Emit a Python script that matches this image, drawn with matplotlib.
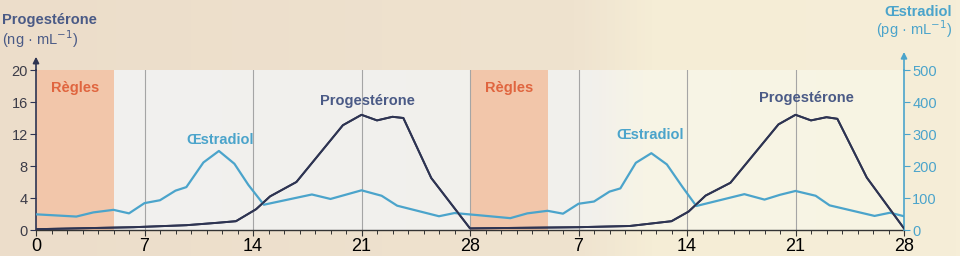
import matplotlib
matplotlib.use('Agg')
import matplotlib.pyplot as plt
import numpy as np
from matplotlib.colors import LinearSegmentedColormap

plt.rcParams['font.family'] = ['Liberation Sans', 'DejaVu Sans']

# Progestérone (ng/mL), deux cycles de 28 jours
jours_pro = [0, 6.3, 9.7, 11.7, 12.9, 14.2, 15.1, 16.8, 19.8, 21, 22, 23, 23.7, 25.5, 28,
             35, 38.3, 41, 42.1, 43.2, 44.8, 47.9, 49, 50, 51, 51.7, 53.6, 56]
progesterone = [0.1, 0.35, 0.6, 0.9, 1.1, 2.6, 4.2, 6.0, 13.1, 14.4, 13.7, 14.15, 14.0, 6.5, 0.2,
                0.35, 0.5, 1.1, 2.3, 4.3, 5.9, 13.2, 14.4, 13.7, 14.1, 13.9, 6.55, 0.2]

# Œstradiol (pg/mL)
jours_oes = [0, 1.5, 2.6, 3.7, 5, 6, 7, 8, 9, 9.7, 10.8, 11.8, 12.8, 13.7, 14.7, 17.8, 19, 21,
             22.3, 23.3, 26, 27, 28.6, 30.6, 31.7, 33, 34, 35, 36, 37, 37.7, 38.7, 39.7, 40.7,
             41.7, 42.6, 45.7, 47, 48, 49, 50.3, 51.2, 54.1, 55.1, 56]
oestradiol = [49, 45, 42, 55, 63, 52, 84, 93, 123, 134, 211, 247, 207, 141, 79, 111, 97, 124,
              107, 76, 43, 53, 46, 37, 52, 60, 51, 82, 89, 120, 130, 210, 240, 205,
              135, 75, 112, 95, 110, 122, 107, 77, 44, 54, 43]

regles = [(0, 5), (28, 33)]
ticks_x = [0, 7, 14, 21, 28, 35, 42, 49, 56]
labels_x = ['0', '7', '14', '21', '28', '7', '14', '21', '28']

c_pro = '#2e3452'
c_oes = '#4ba4cb'
c_titre_pro = '#4a5a86'
c_regles = '#f2c6aa'
c_txt_regles = '#e0653f'

fig = plt.figure(figsize=(9.6, 2.56), dpi=100)

# fond du papier
bg = fig.add_axes([0, 0, 1, 1], zorder=-10)
fond = LinearSegmentedColormap.from_list('fond', [(0, '#ecddca'), (0.6, '#efe3cf'),
                                                  (0.68, '#f5edd6'), (1, '#f6eed8')])
bg.imshow(np.linspace(0, 1, 256)[None, :], cmap=fond, aspect='auto', extent=[0, 1, 0, 1])
bg.axis('off')

ax = fig.add_axes([36 / 960, 26 / 256, 868 / 960, 160 / 256])
ax.patch.set_alpha(0)
zone = LinearSegmentedColormap.from_list('zone', [(0, '#f1f0ef'), (0.64, '#f2f0ec'),
                                                  (0.7, '#f7f4e6'), (1, '#f7f4e3')])
ax.imshow(np.linspace(0, 1, 256)[None, :], cmap=zone, aspect='auto',
          extent=[0, 56, 0, 20], zorder=0)

for debut, fin in regles:
    ax.axvspan(debut, fin, color=c_regles, lw=0, zorder=1)
    ax.text((debut + fin) / 2, 17.7, 'Règles', color=c_txt_regles, fontsize=10.5,
            fontweight='bold', ha='center', va='center', zorder=5)

for x in ticks_x[1:-1]:
    ax.axvline(x, color='#a5a5a5', lw=0.8, zorder=1)

ax2 = ax.twinx()
ax2.set_ylim(0, 500)
ax2.plot(jours_oes, oestradiol, color=c_oes, lw=1.6, zorder=3)
ax.plot(jours_pro, progesterone, color=c_pro, lw=1.4, zorder=4)
ax.set_zorder(ax2.get_zorder() - 1)
ax2.patch.set_alpha(0)
# redraw progesterone above oestradiol
ax2.plot(jours_pro, [v * 25 for v in progesterone], color=c_pro, lw=1.4, zorder=4)

ax.set_xlim(0, 56)
ax.set_ylim(0, 20)
ax.set_xticks(ticks_x)
ax.set_xticklabels(labels_x, fontsize=13)
ax.set_xticks(range(0, 57), minor=True)
ax.tick_params(axis='x', which='major', length=4, width=0.8, color='#333333', pad=2)
ax.tick_params(axis='x', which='minor', length=3, width=0.7, color='#333333')
ax.set_yticks([0, 4, 8, 12, 16, 20])
ax.tick_params(axis='y', labelsize=10.5, labelcolor='#3c3c48', length=4, color=c_pro, pad=2)

ax2.set_yticks([0, 100, 200, 300, 400, 500])
ax2.tick_params(axis='y', labelsize=10.5, labelcolor=c_oes, length=4, color=c_oes, pad=2)

for a in (ax, ax2):
    a.spines['top'].set_visible(False)
ax2.spines['left'].set_visible(False)
ax2.spines['bottom'].set_visible(False)
ax2.spines['right'].set_color(c_oes)
ax2.spines['right'].set_linewidth(1.2)
ax.spines['right'].set_visible(False)
ax.spines['left'].set_color(c_pro)
ax.spines['left'].set_linewidth(1.2)
ax.spines['bottom'].set_color('#333333')
ax.spines['bottom'].set_linewidth(1.0)

# flèches des axes
ax.annotate('', xy=(0, 1.1), xytext=(0, 0.98), xycoords='axes fraction',
            arrowprops=dict(arrowstyle='-|>', color=c_pro, lw=1.2, mutation_scale=9))
ax2.annotate('', xy=(1, 1.13), xytext=(1, 0.98), xycoords='axes fraction',
             arrowprops=dict(arrowstyle='-|>', color=c_oes, lw=1.2, mutation_scale=9))

ax.text(21.4, 16.1, 'Progestérone', color=c_titre_pro, fontsize=10.5, fontweight='bold',
        ha='center', va='center', zorder=5)
ax.text(49.7, 16.5, 'Progestérone', color=c_titre_pro, fontsize=10.5, fontweight='bold',
        ha='center', va='center', zorder=5)
ax.text(11.9, 11.3, 'Œstradiol', color=c_oes, fontsize=10.5, fontweight='bold',
        ha='center', va='center', zorder=5)
ax.text(39.6, 11.9, 'Œstradiol', color=c_oes, fontsize=10.5, fontweight='bold',
        ha='center', va='center', zorder=5)

fig.text(2 / 960, 1 - 20 / 256, 'Progestérone', color=c_titre_pro, fontsize=10.5,
         fontweight='bold', ha='left', va='center')
fig.text(2 / 960, 1 - 39 / 256, '(ng · mL$^{-1}$)', color=c_titre_pro, fontsize=10.5,
         ha='left', va='center')
fig.text(952 / 960, 1 - 12 / 256, 'Œstradiol', color=c_oes, fontsize=10.5,
         fontweight='bold', ha='right', va='center')
fig.text(952 / 960, 1 - 29 / 256, '(pg · mL$^{-1}$)', color=c_oes, fontsize=10.5,
         ha='right', va='center')

fig.savefig('out.png', dpi=100)
